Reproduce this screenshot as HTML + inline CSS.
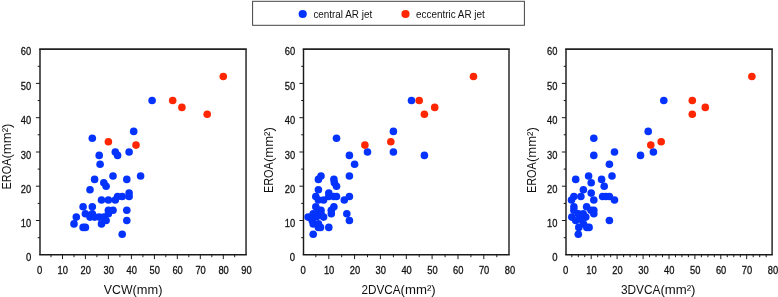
<!DOCTYPE html>
<html><head><meta charset="utf-8"><title>EROA scatter plots</title>
<style>
html,body{margin:0;padding:0;background:#fff;}
svg{display:block;}
text{font-family:"Liberation Sans",sans-serif;fill:#111;}
.tk{font-size:11.7px;stroke:#111;stroke-width:0.3px;}
.ax{font-size:12px;}
.lg{font-size:10px;}
</style></head><body>
<svg width="778" height="297" viewBox="0 0 778 297">
<rect width="778" height="297" fill="#fff"/>
<rect x="252.6" y="1.3" width="271.8" height="24" fill="#fff" stroke="#444" stroke-width="1"/>
<circle cx="302.7" cy="14" r="4.1" fill="#0433ff"/>
<text class="lg" x="313.4" y="17.5" textLength="58.8" lengthAdjust="spacingAndGlyphs">central AR jet</text>
<circle cx="405.5" cy="14" r="4.1" fill="#ff2600"/>
<text class="lg" x="416.0" y="17.5" textLength="68.8" lengthAdjust="spacingAndGlyphs">eccentric AR jet</text>
<g>
<path d="M39.20 49.05H246.80" stroke="#222" stroke-width="1.7" fill="none"/><path d="M39.20 254.8H246.80" stroke="#1a1a1a" stroke-width="1.6" fill="none"/><path d="M40.00 49.05V254.8" stroke="#1a1a1a" stroke-width="1.45" fill="none"/><path d="M246.05 49.05V254.8" stroke="#2a2a2a" stroke-width="1.5" fill="none"/>
<path d="M37.7 237.7H40.0M35.9 220.5H40.0M37.7 203.4H40.0M35.9 186.2H40.0M37.7 169.1H40.0M35.9 152.0H40.0M37.7 134.8H40.0M35.9 117.7H40.0M37.7 100.5H40.0M35.9 83.4H40.0M37.7 66.3H40.0M51.0 254.8V257.2M62.5 254.8V259.1M74.0 254.8V257.2M85.4 254.8V259.1M96.9 254.8V257.2M108.4 254.8V259.1M119.9 254.8V257.2M131.4 254.8V259.1M142.9 254.8V257.2M154.4 254.8V259.1M165.8 254.8V257.2M177.3 254.8V259.1M188.8 254.8V257.2M200.3 254.8V259.1M211.8 254.8V257.2M223.3 254.8V259.1M234.7 254.8V257.2" stroke="#1a1a1a" stroke-width="1" fill="none"/>
<text class="tk" x="25.9" y="261.3" textLength="5.3" lengthAdjust="spacingAndGlyphs">0</text>
<text class="tk" x="20.8" y="226.8" textLength="10.4" lengthAdjust="spacingAndGlyphs">10</text>
<text class="tk" x="20.8" y="192.5" textLength="10.4" lengthAdjust="spacingAndGlyphs">20</text>
<text class="tk" x="20.8" y="158.6" textLength="10.4" lengthAdjust="spacingAndGlyphs">30</text>
<text class="tk" x="20.8" y="124.1" textLength="10.4" lengthAdjust="spacingAndGlyphs">40</text>
<text class="tk" x="20.8" y="89.8" textLength="10.4" lengthAdjust="spacingAndGlyphs">50</text>
<text class="tk" x="20.8" y="54.9" textLength="10.4" lengthAdjust="spacingAndGlyphs">60</text>
<text class="tk" x="37.1" y="274.4" textLength="5.3" lengthAdjust="spacingAndGlyphs">0</text>
<text class="tk" x="57.6" y="274.4" textLength="10.4" lengthAdjust="spacingAndGlyphs">10</text>
<text class="tk" x="80.5" y="274.4" textLength="10.4" lengthAdjust="spacingAndGlyphs">20</text>
<text class="tk" x="103.5" y="274.4" textLength="10.4" lengthAdjust="spacingAndGlyphs">30</text>
<text class="tk" x="126.5" y="274.4" textLength="10.4" lengthAdjust="spacingAndGlyphs">40</text>
<text class="tk" x="149.5" y="274.4" textLength="10.4" lengthAdjust="spacingAndGlyphs">50</text>
<text class="tk" x="172.4" y="274.4" textLength="10.4" lengthAdjust="spacingAndGlyphs">60</text>
<text class="tk" x="195.4" y="274.4" textLength="10.4" lengthAdjust="spacingAndGlyphs">70</text>
<text class="tk" x="218.4" y="274.4" textLength="10.4" lengthAdjust="spacingAndGlyphs">80</text>
<text class="tk" x="241.3" y="274.4" textLength="10.4" lengthAdjust="spacingAndGlyphs">90</text>
<text class="ax" x="103.8" y="293.9"><tspan textLength="28.8" lengthAdjust="spacingAndGlyphs">VCW</tspan><tspan textLength="29.9" lengthAdjust="spacingAndGlyphs">(mm)</tspan></text>
<text class="ax" transform="translate(11.0,189.5) rotate(-90)"><tspan textLength="31.0" lengthAdjust="spacingAndGlyphs">EROA</tspan><tspan textLength="34.9" lengthAdjust="spacingAndGlyphs">(mm²)</tspan></text>
<circle cx="152.1" cy="100.5" r="3.8" fill="#0433ff"/><circle cx="133.7" cy="131.4" r="3.8" fill="#0433ff"/><circle cx="92.3" cy="138.2" r="3.8" fill="#0433ff"/><circle cx="99.2" cy="155.4" r="3.8" fill="#0433ff"/><circle cx="115.3" cy="152.0" r="3.8" fill="#0433ff"/><circle cx="117.6" cy="155.4" r="3.8" fill="#0433ff"/><circle cx="129.1" cy="152.0" r="3.8" fill="#0433ff"/><circle cx="100.1" cy="164.3" r="3.8" fill="#0433ff"/><circle cx="113.0" cy="176.0" r="3.8" fill="#0433ff"/><circle cx="140.6" cy="176.0" r="3.8" fill="#0433ff"/><circle cx="94.6" cy="179.4" r="3.8" fill="#0433ff"/><circle cx="126.8" cy="179.4" r="3.8" fill="#0433ff"/><circle cx="103.8" cy="182.8" r="3.8" fill="#0433ff"/><circle cx="106.1" cy="186.2" r="3.8" fill="#0433ff"/><circle cx="90.0" cy="189.7" r="3.8" fill="#0433ff"/><circle cx="129.1" cy="193.1" r="3.8" fill="#0433ff"/><circle cx="129.1" cy="196.5" r="3.8" fill="#0433ff"/><circle cx="122.2" cy="196.5" r="3.8" fill="#0433ff"/><circle cx="117.6" cy="196.5" r="3.8" fill="#0433ff"/><circle cx="115.3" cy="200.0" r="3.8" fill="#0433ff"/><circle cx="108.4" cy="200.0" r="3.8" fill="#0433ff"/><circle cx="101.5" cy="200.0" r="3.8" fill="#0433ff"/><circle cx="83.1" cy="206.8" r="3.8" fill="#0433ff"/><circle cx="92.3" cy="206.8" r="3.8" fill="#0433ff"/><circle cx="126.8" cy="210.2" r="3.8" fill="#0433ff"/><circle cx="108.4" cy="210.2" r="3.8" fill="#0433ff"/><circle cx="113.0" cy="210.2" r="3.8" fill="#0433ff"/><circle cx="108.4" cy="213.7" r="3.8" fill="#0433ff"/><circle cx="85.4" cy="213.7" r="3.8" fill="#0433ff"/><circle cx="90.0" cy="217.1" r="3.8" fill="#0433ff"/><circle cx="92.3" cy="213.7" r="3.8" fill="#0433ff"/><circle cx="94.6" cy="217.1" r="3.8" fill="#0433ff"/><circle cx="99.2" cy="217.1" r="3.8" fill="#0433ff"/><circle cx="103.8" cy="217.1" r="3.8" fill="#0433ff"/><circle cx="76.3" cy="217.1" r="3.8" fill="#0433ff"/><circle cx="74.0" cy="223.9" r="3.8" fill="#0433ff"/><circle cx="83.1" cy="227.4" r="3.8" fill="#0433ff"/><circle cx="85.4" cy="227.4" r="3.8" fill="#0433ff"/><circle cx="101.5" cy="223.9" r="3.8" fill="#0433ff"/><circle cx="106.1" cy="220.5" r="3.8" fill="#0433ff"/><circle cx="126.8" cy="220.5" r="3.8" fill="#0433ff"/><circle cx="122.2" cy="234.2" r="3.8" fill="#0433ff"/>
<circle cx="223.3" cy="76.5" r="3.8" fill="#ff2600"/><circle cx="172.7" cy="100.5" r="3.8" fill="#ff2600"/><circle cx="181.9" cy="107.4" r="3.8" fill="#ff2600"/><circle cx="207.2" cy="114.3" r="3.8" fill="#ff2600"/><circle cx="108.4" cy="141.7" r="3.8" fill="#ff2600"/><circle cx="136.0" cy="145.1" r="3.8" fill="#ff2600"/>
</g>
<g>
<path d="M302.70 49.05H509.75" stroke="#222" stroke-width="1.7" fill="none"/><path d="M302.70 254.8H509.75" stroke="#1a1a1a" stroke-width="1.6" fill="none"/><path d="M303.50 49.05V254.8" stroke="#1a1a1a" stroke-width="1.45" fill="none"/><path d="M509.00 49.05V254.8" stroke="#2a2a2a" stroke-width="1.5" fill="none"/>
<path d="M301.2 237.7H303.5M299.4 220.5H303.5M301.2 203.4H303.5M299.4 186.2H303.5M301.2 169.1H303.5M299.4 152.0H303.5M301.2 134.8H303.5M299.4 117.7H303.5M301.2 100.5H303.5M299.4 83.4H303.5M301.2 66.3H303.5M315.8 254.8V257.2M328.8 254.8V259.1M341.7 254.8V257.2M354.6 254.8V259.1M367.5 254.8V257.2M380.4 254.8V259.1M393.4 254.8V257.2M406.3 254.8V259.1M419.2 254.8V257.2M432.1 254.8V259.1M445.1 254.8V257.2M458.0 254.8V259.1M470.9 254.8V257.2M483.8 254.8V259.1M496.8 254.8V257.2" stroke="#1a1a1a" stroke-width="1" fill="none"/>
<text class="tk" x="289.8" y="261.3" textLength="5.3" lengthAdjust="spacingAndGlyphs">0</text>
<text class="tk" x="284.7" y="226.8" textLength="10.4" lengthAdjust="spacingAndGlyphs">10</text>
<text class="tk" x="284.7" y="192.5" textLength="10.4" lengthAdjust="spacingAndGlyphs">20</text>
<text class="tk" x="284.7" y="158.6" textLength="10.4" lengthAdjust="spacingAndGlyphs">30</text>
<text class="tk" x="284.7" y="124.1" textLength="10.4" lengthAdjust="spacingAndGlyphs">40</text>
<text class="tk" x="284.7" y="89.8" textLength="10.4" lengthAdjust="spacingAndGlyphs">50</text>
<text class="tk" x="284.7" y="54.9" textLength="10.4" lengthAdjust="spacingAndGlyphs">60</text>
<text class="tk" x="300.6" y="274.4" textLength="5.3" lengthAdjust="spacingAndGlyphs">0</text>
<text class="tk" x="323.9" y="274.4" textLength="10.4" lengthAdjust="spacingAndGlyphs">10</text>
<text class="tk" x="349.7" y="274.4" textLength="10.4" lengthAdjust="spacingAndGlyphs">20</text>
<text class="tk" x="375.6" y="274.4" textLength="10.4" lengthAdjust="spacingAndGlyphs">30</text>
<text class="tk" x="401.4" y="274.4" textLength="10.4" lengthAdjust="spacingAndGlyphs">40</text>
<text class="tk" x="427.2" y="274.4" textLength="10.4" lengthAdjust="spacingAndGlyphs">50</text>
<text class="tk" x="453.1" y="274.4" textLength="10.4" lengthAdjust="spacingAndGlyphs">60</text>
<text class="tk" x="478.9" y="274.4" textLength="10.4" lengthAdjust="spacingAndGlyphs">70</text>
<text class="tk" x="504.8" y="274.4" textLength="10.4" lengthAdjust="spacingAndGlyphs">80</text>
<text class="ax" x="361.4" y="293.9"><tspan textLength="39.2" lengthAdjust="spacingAndGlyphs">2DVCA</tspan><tspan textLength="35.1" lengthAdjust="spacingAndGlyphs">(mm²)</tspan></text>
<text class="ax" transform="translate(273.3,193.10000000000002) rotate(-90)"><tspan textLength="31.0" lengthAdjust="spacingAndGlyphs">EROA</tspan><tspan textLength="34.9" lengthAdjust="spacingAndGlyphs">(mm²)</tspan></text>
<circle cx="411.5" cy="100.5" r="3.8" fill="#0433ff"/><circle cx="393.4" cy="131.4" r="3.8" fill="#0433ff"/><circle cx="336.5" cy="138.2" r="3.8" fill="#0433ff"/><circle cx="367.5" cy="152.0" r="3.8" fill="#0433ff"/><circle cx="393.4" cy="152.0" r="3.8" fill="#0433ff"/><circle cx="424.4" cy="155.4" r="3.8" fill="#0433ff"/><circle cx="349.4" cy="155.4" r="3.8" fill="#0433ff"/><circle cx="354.6" cy="164.3" r="3.8" fill="#0433ff"/><circle cx="349.4" cy="176.0" r="3.8" fill="#0433ff"/><circle cx="321.0" cy="176.0" r="3.8" fill="#0433ff"/><circle cx="318.4" cy="179.4" r="3.8" fill="#0433ff"/><circle cx="333.9" cy="179.4" r="3.8" fill="#0433ff"/><circle cx="334.4" cy="182.8" r="3.8" fill="#0433ff"/><circle cx="336.5" cy="186.2" r="3.8" fill="#0433ff"/><circle cx="318.4" cy="189.7" r="3.8" fill="#0433ff"/><circle cx="328.8" cy="193.1" r="3.8" fill="#0433ff"/><circle cx="315.8" cy="196.5" r="3.8" fill="#0433ff"/><circle cx="318.4" cy="200.0" r="3.8" fill="#0433ff"/><circle cx="323.6" cy="200.0" r="3.8" fill="#0433ff"/><circle cx="333.9" cy="196.5" r="3.8" fill="#0433ff"/><circle cx="336.5" cy="196.5" r="3.8" fill="#0433ff"/><circle cx="344.3" cy="200.0" r="3.8" fill="#0433ff"/><circle cx="349.4" cy="196.5" r="3.8" fill="#0433ff"/><circle cx="315.8" cy="206.8" r="3.8" fill="#0433ff"/><circle cx="333.9" cy="206.8" r="3.8" fill="#0433ff"/><circle cx="331.3" cy="210.2" r="3.8" fill="#0433ff"/><circle cx="331.3" cy="213.7" r="3.8" fill="#0433ff"/><circle cx="321.0" cy="210.2" r="3.8" fill="#0433ff"/><circle cx="318.4" cy="210.2" r="3.8" fill="#0433ff"/><circle cx="313.2" cy="213.7" r="3.8" fill="#0433ff"/><circle cx="308.1" cy="217.1" r="3.8" fill="#0433ff"/><circle cx="323.6" cy="217.1" r="3.8" fill="#0433ff"/><circle cx="321.0" cy="213.7" r="3.8" fill="#0433ff"/><circle cx="346.8" cy="213.7" r="3.8" fill="#0433ff"/><circle cx="349.4" cy="220.5" r="3.8" fill="#0433ff"/><circle cx="312.2" cy="220.5" r="3.8" fill="#0433ff"/><circle cx="313.2" cy="223.9" r="3.8" fill="#0433ff"/><circle cx="318.4" cy="223.9" r="3.8" fill="#0433ff"/><circle cx="318.4" cy="227.4" r="3.8" fill="#0433ff"/><circle cx="320.5" cy="227.4" r="3.8" fill="#0433ff"/><circle cx="328.8" cy="227.4" r="3.8" fill="#0433ff"/><circle cx="313.2" cy="234.2" r="3.8" fill="#0433ff"/><circle cx="316.9" cy="216.4" r="3.8" fill="#0433ff"/><circle cx="328.8" cy="196.5" r="3.8" fill="#0433ff"/>
<circle cx="473.5" cy="76.5" r="3.8" fill="#ff2600"/><circle cx="419.2" cy="100.5" r="3.8" fill="#ff2600"/><circle cx="434.7" cy="107.4" r="3.8" fill="#ff2600"/><circle cx="424.4" cy="114.3" r="3.8" fill="#ff2600"/><circle cx="390.8" cy="141.7" r="3.8" fill="#ff2600"/><circle cx="364.9" cy="145.1" r="3.8" fill="#ff2600"/>
</g>
<g>
<path d="M565.20 49.05H772.85" stroke="#222" stroke-width="1.7" fill="none"/><path d="M565.20 254.8H772.85" stroke="#1a1a1a" stroke-width="1.6" fill="none"/><path d="M566.00 49.05V254.8" stroke="#1a1a1a" stroke-width="1.45" fill="none"/><path d="M772.10 49.05V254.8" stroke="#2a2a2a" stroke-width="1.5" fill="none"/>
<path d="M563.7 237.7H566.0M561.9 220.5H566.0M563.7 203.4H566.0M561.9 186.2H566.0M563.7 169.1H566.0M561.9 152.0H566.0M563.7 134.8H566.0M561.9 117.7H566.0M563.7 100.5H566.0M561.9 83.4H566.0M563.7 66.3H566.0M571.8 254.8V257.2M578.3 254.8V257.2M584.7 254.8V257.2M591.2 254.8V259.1M597.7 254.8V257.2M604.2 254.8V257.2M610.7 254.8V257.2M617.1 254.8V259.1M623.6 254.8V257.2M630.1 254.8V257.2M636.6 254.8V257.2M643.1 254.8V259.1M649.5 254.8V257.2M656.0 254.8V257.2M662.5 254.8V257.2M669.0 254.8V259.1M675.5 254.8V257.2M681.9 254.8V257.2M688.4 254.8V257.2M694.9 254.8V259.1M701.4 254.8V257.2M707.9 254.8V257.2M714.3 254.8V257.2M720.8 254.8V259.1M727.3 254.8V257.2M733.8 254.8V257.2M740.3 254.8V257.2M746.7 254.8V259.1M753.2 254.8V257.2M759.7 254.8V257.2M766.2 254.8V257.2" stroke="#1a1a1a" stroke-width="1" fill="none"/>
<text class="tk" x="552.2" y="261.3" textLength="5.3" lengthAdjust="spacingAndGlyphs">0</text>
<text class="tk" x="547.1" y="226.8" textLength="10.4" lengthAdjust="spacingAndGlyphs">10</text>
<text class="tk" x="547.1" y="192.5" textLength="10.4" lengthAdjust="spacingAndGlyphs">20</text>
<text class="tk" x="547.1" y="158.6" textLength="10.4" lengthAdjust="spacingAndGlyphs">30</text>
<text class="tk" x="547.1" y="124.1" textLength="10.4" lengthAdjust="spacingAndGlyphs">40</text>
<text class="tk" x="547.1" y="89.8" textLength="10.4" lengthAdjust="spacingAndGlyphs">50</text>
<text class="tk" x="547.1" y="54.9" textLength="10.4" lengthAdjust="spacingAndGlyphs">60</text>
<text class="tk" x="562.9" y="274.4" textLength="5.3" lengthAdjust="spacingAndGlyphs">0</text>
<text class="tk" x="586.3" y="274.4" textLength="10.4" lengthAdjust="spacingAndGlyphs">10</text>
<text class="tk" x="612.2" y="274.4" textLength="10.4" lengthAdjust="spacingAndGlyphs">20</text>
<text class="tk" x="638.2" y="274.4" textLength="10.4" lengthAdjust="spacingAndGlyphs">30</text>
<text class="tk" x="664.1" y="274.4" textLength="10.4" lengthAdjust="spacingAndGlyphs">40</text>
<text class="tk" x="690.0" y="274.4" textLength="10.4" lengthAdjust="spacingAndGlyphs">50</text>
<text class="tk" x="715.9" y="274.4" textLength="10.4" lengthAdjust="spacingAndGlyphs">60</text>
<text class="tk" x="741.8" y="274.4" textLength="10.4" lengthAdjust="spacingAndGlyphs">70</text>
<text class="tk" x="767.8" y="274.4" textLength="10.4" lengthAdjust="spacingAndGlyphs">80</text>
<text class="ax" x="620.9" y="293.9"><tspan textLength="39.5" lengthAdjust="spacingAndGlyphs">3DVCA</tspan><tspan textLength="35.1" lengthAdjust="spacingAndGlyphs">(mm²)</tspan></text>
<text class="ax" transform="translate(536.0,193.10000000000002) rotate(-90)"><tspan textLength="31.0" lengthAdjust="spacingAndGlyphs">EROA</tspan><tspan textLength="34.9" lengthAdjust="spacingAndGlyphs">(mm²)</tspan></text>
<circle cx="663.8" cy="100.5" r="3.8" fill="#0433ff"/><circle cx="648.2" cy="131.4" r="3.8" fill="#0433ff"/><circle cx="593.8" cy="138.2" r="3.8" fill="#0433ff"/><circle cx="614.5" cy="152.0" r="3.8" fill="#0433ff"/><circle cx="653.4" cy="152.0" r="3.8" fill="#0433ff"/><circle cx="640.5" cy="155.4" r="3.8" fill="#0433ff"/><circle cx="593.8" cy="155.4" r="3.8" fill="#0433ff"/><circle cx="609.4" cy="164.3" r="3.8" fill="#0433ff"/><circle cx="612.0" cy="176.0" r="3.8" fill="#0433ff"/><circle cx="588.6" cy="176.0" r="3.8" fill="#0433ff"/><circle cx="575.7" cy="179.4" r="3.8" fill="#0433ff"/><circle cx="601.6" cy="179.4" r="3.8" fill="#0433ff"/><circle cx="591.2" cy="182.8" r="3.8" fill="#0433ff"/><circle cx="604.2" cy="186.2" r="3.8" fill="#0433ff"/><circle cx="583.4" cy="189.7" r="3.8" fill="#0433ff"/><circle cx="591.2" cy="193.1" r="3.8" fill="#0433ff"/><circle cx="573.9" cy="196.5" r="3.8" fill="#0433ff"/><circle cx="580.9" cy="196.5" r="3.8" fill="#0433ff"/><circle cx="602.6" cy="196.5" r="3.8" fill="#0433ff"/><circle cx="606.0" cy="196.5" r="3.8" fill="#0433ff"/><circle cx="609.4" cy="196.5" r="3.8" fill="#0433ff"/><circle cx="614.5" cy="200.0" r="3.8" fill="#0433ff"/><circle cx="593.8" cy="200.0" r="3.8" fill="#0433ff"/><circle cx="571.5" cy="200.0" r="3.8" fill="#0433ff"/><circle cx="573.9" cy="206.8" r="3.8" fill="#0433ff"/><circle cx="573.9" cy="210.2" r="3.8" fill="#0433ff"/><circle cx="586.6" cy="206.8" r="3.8" fill="#0433ff"/><circle cx="591.0" cy="210.2" r="3.8" fill="#0433ff"/><circle cx="593.8" cy="210.2" r="3.8" fill="#0433ff"/><circle cx="593.8" cy="213.7" r="3.8" fill="#0433ff"/><circle cx="578.3" cy="213.7" r="3.8" fill="#0433ff"/><circle cx="583.2" cy="213.7" r="3.8" fill="#0433ff"/><circle cx="571.8" cy="217.1" r="3.8" fill="#0433ff"/><circle cx="585.8" cy="217.1" r="3.8" fill="#0433ff"/><circle cx="609.4" cy="220.5" r="3.8" fill="#0433ff"/><circle cx="575.7" cy="220.5" r="3.8" fill="#0433ff"/><circle cx="583.4" cy="223.9" r="3.8" fill="#0433ff"/><circle cx="578.8" cy="227.4" r="3.8" fill="#0433ff"/><circle cx="586.8" cy="227.4" r="3.8" fill="#0433ff"/><circle cx="589.1" cy="227.4" r="3.8" fill="#0433ff"/><circle cx="578.3" cy="234.2" r="3.8" fill="#0433ff"/><circle cx="580.3" cy="219.1" r="3.8" fill="#0433ff"/>
<circle cx="751.9" cy="76.5" r="3.8" fill="#ff2600"/><circle cx="692.3" cy="100.5" r="3.8" fill="#ff2600"/><circle cx="705.3" cy="107.4" r="3.8" fill="#ff2600"/><circle cx="692.3" cy="114.3" r="3.8" fill="#ff2600"/><circle cx="661.2" cy="141.7" r="3.8" fill="#ff2600"/><circle cx="650.8" cy="145.1" r="3.8" fill="#ff2600"/>
</g>
</svg>
</body></html>
